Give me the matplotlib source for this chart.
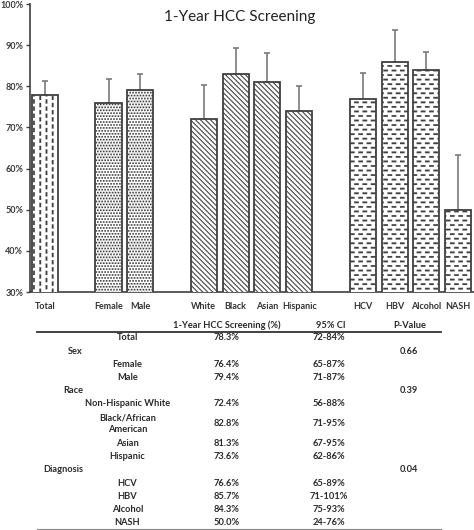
import numpy as np
import matplotlib
matplotlib.use("Agg")
import matplotlib.pyplot as plt
import matplotlib.hatch as mhatch
from matplotlib.path import Path
from matplotlib.lines import Line2D

# ---------------- data ----------------
group_labels = [["Total"], ["Female", "Male"],
                ["White", "Black", "Asian", "Hispanic"],
                ["HCV", "HBV", "Alcohol", "NASH"]]
group_values = [[78], [76, 79], [72, 83, 81, 74], [77, 86, 84, 50]]
group_upper = [[81.4], [81.8, 83.1], [80.3, 89.4, 88.1, 80.0],
               [83.2, 93.6, 88.4, 63.3]]
group_hatch = ["|", ".", "\\", "-"]
ytick_values = [30, 40, 50, 60, 70, 80, 90, 100]
title = "1-Year HCC Screening"

table_header = ["1-Year HCC Screening (%)", "95% CI", "P-Value"]
row_labels = ["Total", "Sex", "Female", "Male", "Race", "Non-Hispanic White",
              "Black/African\nAmerican", "Asian", "Hispanic", "Diagnosis",
              "HCV", "HBV", "Alcohol", "NASH"]
row_is_category = [False, True, False, False, True, False, False, False, False,
                   True, False, False, False, False]
row_pct = ["78.3%", "", "76.4%", "79.4%", "", "72.4%", "82.8%", "81.3%",
           "73.6%", "", "76.6%", "85.7%", "84.3%", "50.0%"]
row_ci = ["72-84%", "", "65-87%", "71-87%", "", "56-88%", "71-95%", "67-95%",
          "62-86%", "", "65-89%", "71-101%", "75-93%", "24-76%"]
row_p = ["", "0.66", "", "", "0.39", "", "", "", "", "0.04", "", "", "", ""]


# ---------------- custom hatch textures ----------------
def _rects_to_path(rects):
    verts, codes = [], []
    for x0, y0, w, h in rects:
        xs = [(x0, w)] if x0 + w <= 1 else [(x0, 1 - x0), (0, x0 + w - 1)]
        ys = [(y0, h)] if y0 + h <= 1 else [(y0, 1 - y0), (0, y0 + h - 1)]
        for a, c in xs:
            for b, d in ys:
                verts += [(a, b), (a + c, b), (a + c, b + d), (a, b + d), (a, b)]
                codes += [Path.MOVETO, Path.LINETO, Path.LINETO, Path.LINETO,
                          Path.CLOSEPOLY]
    return verts, codes


class _PolyHatch(mhatch.HatchPatternBase):
    char = None

    def __init__(self, hatch, density):
        if self.char in hatch:
            v, c = self.build()
            self.verts = np.array(v, float).reshape(-1, 2)
            self.codes = np.array(c, dtype=Path.code_type)
        else:
            self.verts = np.empty((0, 2))
            self.codes = np.empty(0, dtype=Path.code_type)
        self.num_vertices = len(self.verts)

    def set_vertices_and_codes(self, vertices, codes):
        vertices[:] = self.verts
        codes[:] = self.codes


class VDashHatch(_PolyHatch):
    char = "|"

    def build(self):
        nx, ny = 16, 14
        w, h = 0.017, 0.042
        return _rects_to_path([((i + 0.3) / nx, (j + 0.5 * (i % 2)) / ny, w, h)
                               for i in range(nx) for j in range(ny)])


class HDashHatch(_PolyHatch):
    char = "-"

    def build(self):
        nx, ny = 12, 22
        w, h = 0.046, 0.017
        return _rects_to_path([((i + 0.5 * (j % 2)) / nx, (j + 0.3) / ny, w, h)
                               for j in range(ny) for i in range(nx)])


class DotHatch(_PolyHatch):
    char = "."

    def build(self):
        n = 34
        s = 0.015
        return _rects_to_path([((i + 0.5 * (j % 2)) / n, (j + 0.25) / n, s, s)
                               for j in range(n) for i in range(n)])


class DiagHatch(_PolyHatch):
    char = "\\"

    def build(self):
        n = 40
        t = 0.0135
        verts, codes = [], []
        for k in range(-n - 1, n + 1):
            s = k / n
            verts += [(s, 1 + s), (s + t, 1 + s), (1 + s + t, s), (1 + s, s),
                      (s, 1 + s)]
            codes += [Path.MOVETO, Path.LINETO, Path.LINETO, Path.LINETO,
                      Path.CLOSEPOLY]
        return verts, codes


mhatch._hatch_types[:] = [VDashHatch, HDashHatch, DotHatch, DiagHatch]

# ---------------- styling ----------------
plt.rcParams["font.family"] = ["Lato", "DejaVu Sans"]
plt.rcParams["hatch.linewidth"] = 0.1
plt.rcParams["hatch.color"] = "#303030"

W, H = 474, 530
fig = plt.figure(figsize=(W / 100, H / 100), dpi=100)


def fx(px):
    return px / W


def fy(py):
    return 1 - py / H


ax = fig.add_axes([fx(30), fy(292), 1 - fx(30), (292 - 4) / H])

dark = "#404040"
pos = 0
all_pos, all_labels = [], []
for labels, vals, ups, hatch in zip(group_labels, group_values, group_upper, group_hatch):
    xs = np.arange(pos, pos + len(labels))
    ax.bar(xs, vals, width=0.82, color="white", edgecolor=dark, linewidth=1.3,
           hatch=hatch, zorder=3)
    err_up = np.array(ups) - np.array(vals)
    ax.errorbar(xs, vals, yerr=[np.zeros_like(err_up), err_up], fmt="none",
                ecolor="#7a7a7a", elinewidth=1.2, capsize=2.3, capthick=1.2,
                zorder=2)
    all_pos += list(xs)
    all_labels += labels
    pos += len(labels) + 1

ax.set_xlim(-0.47, 13.5)
ax.set_ylim(30, 100)
ax.set_yticks(ytick_values)
ax.set_yticklabels([f"{v}%" for v in ytick_values])
ax.set_xticks(all_pos)
ax.set_xticklabels(all_labels)
for s in ["top", "right"]:
    ax.spines[s].set_visible(False)
for s in ["left", "bottom"]:
    ax.spines[s].set_color(dark)
    ax.spines[s].set_linewidth(1.2)
ax.tick_params(axis="y", direction="out", length=3, width=1, color=dark,
               labelsize=6.5, labelcolor="#3a3a3a", pad=2)
ax.tick_params(axis="x", length=0, labelsize=6.5, labelcolor="#333333", pad=7)
for t in ax.get_xticklabels() + ax.get_yticklabels():
    t.set_fontweight("bold")

fig.text(fx(240), fy(17), title, ha="center", va="center", fontsize=11,
         color="#222222")

# ---------------- table ----------------
tcol = "#2a2a2a"
tfs = 6.7
col_pct, col_ci, col_p = 227, 329, 409
fig.text(fx(col_pct), fy(325), table_header[0], ha="center", va="center",
         fontsize=tfs, fontweight="bold", color=tcol)
fig.text(fx(331), fy(325), table_header[1], ha="center", va="center",
         fontsize=tfs, fontweight="bold", color=tcol)
fig.text(fx(410), fy(325), table_header[2], ha="center", va="center",
         fontsize=tfs, fontweight="bold", color=tcol)
fig.add_artist(Line2D([fx(37), fx(441)], [fy(331.5), fy(331.5)],
                      transform=fig.transFigure, color="#333333", lw=1.3))

unit = 13.2
heights = [2 if "\n" in lab else 1 for lab in row_labels]
top = 338 - unit / 2
for lab, cat, p1, ci, pv, h in zip(row_labels, row_is_category, row_pct,
                                   row_ci, row_p, heights):
    yc = top + h * unit / 2
    if cat:
        fig.text(fx(83), fy(yc), lab, ha="right", va="center", fontsize=tfs,
                 fontweight="bold", color=tcol)
    else:
        fig.text(fx(127.5), fy(yc), lab, ha="center", va="center",
                 fontsize=tfs, fontweight="bold", color=tcol,
                 linespacing=1.45)
    if p1:
        fig.text(fx(col_pct), fy(yc), p1, ha="center", va="center",
                 fontsize=tfs, fontweight="bold", color=tcol)
    if ci:
        fig.text(fx(col_ci), fy(yc), ci, ha="center", va="center",
                 fontsize=tfs, fontweight="bold", color=tcol)
    if pv:
        fig.text(fx(col_p), fy(yc), pv, ha="center", va="center",
                 fontsize=tfs, fontweight="bold", color=tcol)
    top += h * unit

fig.add_artist(Line2D([fx(37), fx(441)], [fy(528.5), fy(528.5)],
                      transform=fig.transFigure, color="#888888", lw=0.8))
for xt in [37, 83, 172, 283, 378, 441]:
    fig.add_artist(Line2D([fx(xt), fx(xt)], [fy(528.5), fy(532)],
                          transform=fig.transFigure, color="#888888", lw=0.8))

fig.savefig("out.png", dpi=100)
